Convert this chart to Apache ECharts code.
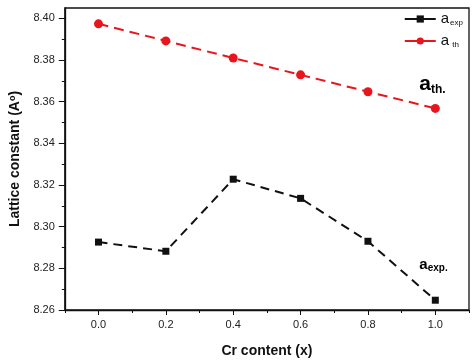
<!DOCTYPE html>
<html>
<head>
<meta charset="utf-8">
<script src="https://cdn.jsdelivr.net/npm/echarts@6/dist/echarts.min.js"></script>
<style>html,body{margin:0;padding:0;background:#fff}#c{width:474px;height:363px}</style>
</head>
<body>
<div id="c"></div>
<script>
var crContent = [0.0, 0.2, 0.4, 0.6, 0.8, 1.0];
var aExp = [8.2926, 8.2882, 8.3228, 8.3136, 8.2930, 8.2647];
var aTh = [8.3974, 8.3892, 8.3810, 8.3729, 8.3648, 8.3568];
var xMajor = [0.0, 0.2, 0.4, 0.6, 0.8, 1.0];
var xMinor = [-0.1, 0.1, 0.3, 0.5, 0.7, 0.9, 1.1];
var yMajor = [8.26, 8.28, 8.30, 8.32, 8.34, 8.36, 8.38, 8.40];
var yMinor = [8.27, 8.29, 8.31, 8.33, 8.35, 8.37, 8.39];

var FONT = '"Liberation Sans", Arial, sans-serif';
var RED = '#e8161c';
var BLK = '#111111';

function pairs(xs, ys) { return xs.map(function (x, i) { return [x, ys[i]]; }); }

var expData = pairs(crContent, aExp);
var thData = pairs(crContent, aTh);
var last = expData.length - 1;
expData[last] = {
  value: expData[last],
  label: {
    show: true, position: 'inside', align: 'left', verticalAlign: 'bottom', offset: [-16, -27],
    formatter: '{a|a}{s|exp.}',
    rich: {
      a: { fontFamily: FONT, fontWeight: 'bold', fontSize: 15, lineHeight: 16, color: '#000' },
      s: { fontFamily: FONT, fontWeight: 'bold', fontSize: 10, lineHeight: 10, verticalAlign: 'bottom', padding: [6, 0, 0, 0], color: '#000' }
    }
  }
};
thData[last] = {
  value: thData[last],
  label: {
    show: true, position: 'inside', align: 'left', verticalAlign: 'bottom', offset: [-16, -13],
    formatter: '{a|a}{s|th.}',
    rich: {
      a: { fontFamily: FONT, fontWeight: 'bold', fontSize: 21, lineHeight: 22, color: '#000' },
      s: { fontFamily: FONT, fontWeight: 'bold', fontSize: 12, lineHeight: 12, verticalAlign: 'bottom', padding: [7, 0, 0, 0], color: '#000' }
    }
  }
};

function xAxisDef(ticks, len, showLabel, name) {
  return {
    type: 'value', min: -0.1, max: 1.1, interval: 0.1, position: 'bottom',
    name: name || '', nameLocation: 'middle', nameGap: 34,
    nameTextStyle: { fontFamily: FONT, fontWeight: 'bold', fontSize: 14, color: '#111' },
    axisLine: { show: showLabel, onZero: false, lineStyle: { color: '#111', width: 1.3 } },
    axisTick: { show: true, inside: false, length: len, customValues: ticks, lineStyle: { color: '#111', width: 1 } },
    axisLabel: { show: showLabel, customValues: ticks, margin: 9, fontFamily: FONT, fontSize: 11, color: '#222',
      formatter: function (v) { return v.toFixed(1); } },
    splitLine: { show: false }
  };
}
function yAxisDef(ticks, len, showLabel, name) {
  return {
    type: 'value', min: 8.26, max: 8.405, position: 'left',
    name: name || '', nameLocation: 'middle', nameGap: 41,
    nameTextStyle: { fontFamily: FONT, fontWeight: 'bold', fontSize: 14, color: '#111',
      rich: { sup: { fontFamily: FONT, fontWeight: 'bold', fontSize: 9, verticalAlign: 'top', padding: [0, 0, 6, 0], color: '#111' } } },
    axisLine: { show: showLabel, onZero: false, lineStyle: { color: '#111', width: 1.3 } },
    axisTick: { show: true, inside: false, length: len, customValues: ticks, lineStyle: { color: '#111', width: 1 } },
    axisLabel: { show: showLabel, customValues: ticks, margin: 10, fontFamily: FONT, fontSize: 11, color: '#222',
      formatter: function (v) { return v.toFixed(2); } },
    splitLine: { show: false }
  };
}

var chart = echarts.init(document.getElementById('c'), null, { renderer: 'canvas' });
chart.setOption({
  animation: false,
  backgroundColor: '#fff',
  grid: { left: 57, right: 5, top: 8, bottom: 48, show: true, borderColor: '#111', borderWidth: 1.3, backgroundColor: 'transparent' },
  legend: {
    orient: 'vertical', right: 6, top: 6, itemWidth: 31, itemHeight: 9, itemGap: 6,
    data: ['a_exp', 'a_th'],
    lineStyle: { type: 'solid' },
    formatter: function (n) { return n === 'a_exp' ? '{a|a}{s|exp}' : '{a|a}{s| th}'; },
    textStyle: {
      rich: {
        a: { fontFamily: FONT, fontSize: 15, lineHeight: 16, color: '#111' },
        s: { fontFamily: FONT, fontSize: 8, lineHeight: 8, verticalAlign: 'bottom', padding: [8, 0, 0, 1], color: '#111' }
      }
    }
  },
  xAxis: [
    xAxisDef(xMajor, 5, true, 'Cr content (x)'),
    xAxisDef(xMinor, 3, false)
  ],
  yAxis: [
    yAxisDef(yMajor, 6, true, 'Lattice constant (A{sup|o})'),
    yAxisDef(yMinor, 3, false)
  ],
  series: [
    {
      name: 'a_exp', type: 'line', data: expData,
      symbol: 'rect', symbolSize: 7,
      lineStyle: { color: BLK, width: 2, type: [9, 6] },
      itemStyle: { color: BLK }
    },
    {
      name: 'a_th', type: 'line', data: thData,
      symbol: 'circle', symbolSize: 9,
      lineStyle: { color: RED, width: 2, type: [10, 6] },
      itemStyle: { color: RED }
    }
  ]
});
</script>
</body>
</html>
